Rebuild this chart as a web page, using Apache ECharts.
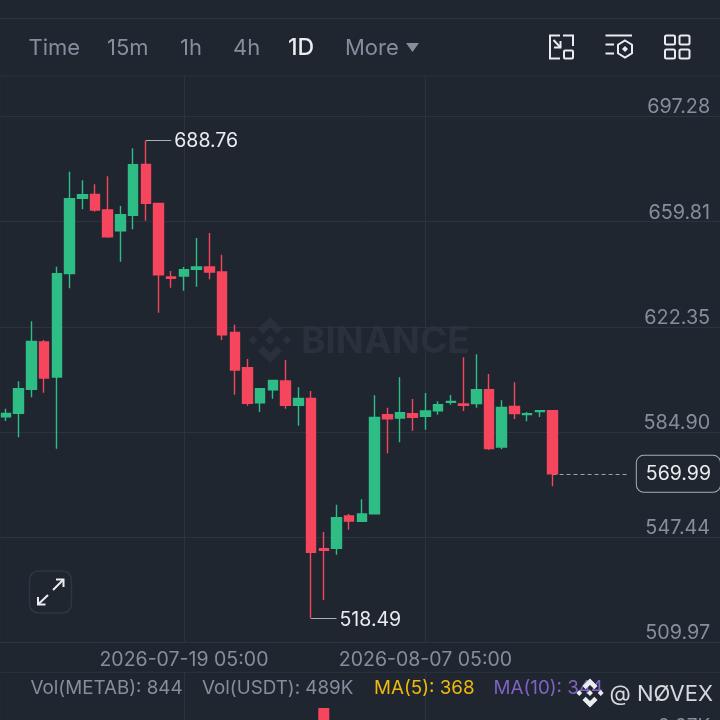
<!DOCTYPE html>
<html>
<head>
<meta charset="utf-8">
<style>html,body{margin:0;padding:0;background:#1f2630;overflow:hidden}#c{width:720px;height:720px}</style>
<script src="https://cdn.jsdelivr.net/npm/echarts@6/dist/echarts.min.js"></script>
</head>
<body>
<div id="c"></div>
<script>
const days = [
'2026-07-05 05:00','2026-07-06 05:00','2026-07-07 05:00','2026-07-08 05:00','2026-07-09 05:00','2026-07-10 05:00',
'2026-07-11 05:00','2026-07-12 05:00','2026-07-13 05:00','2026-07-14 05:00','2026-07-15 05:00','2026-07-16 05:00',
'2026-07-17 05:00','2026-07-18 05:00','2026-07-19 05:00','2026-07-20 05:00','2026-07-21 05:00','2026-07-22 05:00',
'2026-07-23 05:00','2026-07-24 05:00','2026-07-25 05:00','2026-07-26 05:00','2026-07-27 05:00','2026-07-28 05:00',
'2026-07-29 05:00','2026-07-30 05:00','2026-07-31 05:00','2026-08-01 05:00','2026-08-02 05:00','2026-08-03 05:00',
'2026-08-04 05:00','2026-08-05 05:00','2026-08-06 05:00','2026-08-07 05:00','2026-08-08 05:00','2026-08-09 05:00',
'2026-08-10 05:00','2026-08-11 05:00','2026-08-12 05:00','2026-08-13 05:00','2026-08-14 05:00','2026-08-15 05:00',
'2026-08-16 05:00','2026-08-17 05:00','2026-08-18 05:00','2026-08-19 05:00','2026-08-20 05:00','2026-08-21 05:00',
'2026-08-22 05:00','2026-08-23 05:00','2026-08-24 05:00','2026-08-25 05:00','2026-08-26 05:00','2026-08-27 05:00',
'2026-08-28 05:00','2026-08-29 05:00','2026-08-30 05:00'];
const shownDays = ['2026-07-19 05:00','2026-08-07 05:00'];
// [open, close, low, high]
const candles = [
[590.34,591.53,588.80,593.19],[591.53,600.32,582.98,602.93],[600.08,617.18,597.23,624.30],[616.94,604.12,598.89,617.65],
[604.47,641.29,578.94,643.78],[641.29,668.00,636.06,677.62],[668.12,669.43,664.20,674.54],[669.55,663.97,663.37,673.11],
[663.97,654.47,654.11,675.96],[656.60,662.30,645.56,665.39],[662.07,680.12,657.08,685.94],[680.24,666.34,660.17,688.76],
[666.34,640.93,627.39,666.34],[640.10,639.62,636.30,642.24],[640.45,642.71,635.23,643.66],[642.83,643.66,636.65,653.99],
[643.66,641.88,639.27,655.77],[641.88,619.55,617.65,648.05],[620.39,606.97,598.18,623.12],[607.80,595.09,594.26,610.89],
[595.33,600.32,592.00,600.32],[599.96,603.29,596.75,603.29],[603.05,594.38,593.19,610.53],[594.38,596.87,587.14,600.79],
[596.88,542.02,518.49,599.49],[543.32,542.73,525.03,549.26],[543.44,554.37,541.18,559.00],[554.96,553.18,550.09,555.67],
[553.06,555.67,553.06,560.90],[555.79,590.11,555.79,597.95],[591.06,589.63,577.28,593.55],[589.87,591.77,581.20,604.36],
[591.42,590.11,585.36,596.64],[590.47,592.37,585.72,598.78],[592.48,594.62,591.06,595.81],[595.45,595.81,594.62,598.07],
[594.86,594.38,592.37,611.48],[594.98,599.97,593.55,612.55],[599.97,578.95,578.47,605.55],[579.54,593.67,578.71,596.17],
[594.03,591.42,589.52,602.58],[591.06,591.42,588.68,592.01],[592.13,592.48,590.23,592.72],[592.48,569.99,565.53,592.60]];
const volumes = [null,null,null,null,null,null,null,null,null,null,null,null,null,null,null,null,null,null,null,null,null,null,null,null,null,2500];
const priceTicks = [509.97,547.44,584.90,622.35,659.81,697.28];
const volumeTicks = [2270];
const highPoint = {from:11,to:13,value:688.76};
const lowPoint = {from:24,to:26,value:518.49};
const lastPoint = {from:43,to:49,value:569.99};
const tabs = [['Time',28.5],['15m',107],['1h',180],['4h',233],['More',345]];
const activeTab = ['1D',288];
const legendItems = [['Vol(METAB): 844',30.5,'#848e9c'],['Vol(USDT): 489K',202,'#848e9c'],['MA(5): 368',374,'#f0b90b'],['MA(10): 344',493.5,'#7f63c4']];

const BG='#1f2630', LINE='#2c333e', GREY='#848e9c', FONT='Inter', WHITE='#eaecef';
const up='#2ebd85', down='#f6465d';

function txt(text,x,y,size,fill,extra){return Object.assign({type:'text',x:x,y:y,z:50,silent:true,style:{text:text,fontSize:size,fontFamily:FONT,fill:fill,verticalAlign:'middle',align:'left'}},extra||{});}
function poly(pts,fill,z){return {type:'polygon',z:z,silent:true,shape:{points:pts},style:{fill:fill}};}
function logo(cx,cy,r,fill,z){
  const P=a=>a.map(p=>[cx+p[0]*r,cy+p[1]*r]);
  return [
    poly(P([[0,-.2],[.2,0],[0,.2],[-.2,0]]),fill,z),
    poly(P([[-.74,-.2],[-.54,0],[-.74,.2],[-.94,0]]),fill,z),
    poly(P([[.74,-.2],[.94,0],[.74,.2],[.54,0]]),fill,z),
    poly(P([[0,-1],[.52,-.48],[.3,-.26],[0,-.56],[-.3,-.26],[-.52,-.48]]),fill,z),
    poly(P([[0,1],[.52,.48],[.3,.26],[0,.56],[-.3,.26],[-.52,.48]]),fill,z)
  ];
}
function pl(points,color,w){return {type:'polyline',z:50,silent:true,shape:{points:points},style:{stroke:color,lineWidth:w,fill:null}};}
function rc(x,y,w,h,r,color,lw){return {type:'rect',z:50,silent:true,shape:{x:x,y:y,width:w,height:h,r:r},style:{stroke:color,lineWidth:lw,fill:null}};}

const graphics = [
  {type:'line',z:1,silent:true,shape:{x1:0,y1:18.5,x2:720,y2:18.5},style:{stroke:LINE,lineWidth:1}},
  ...logo(270,340,23,'#2a313c',0),
  txt('BINANCE',301,341.5,37,'#2a313c',{z:0,style:{text:'BINANCE',fontSize:37,fontWeight:700,fontFamily:FONT,fill:'#2a313c',verticalAlign:'middle',align:'left'}}),
  ...tabs.map(t=>txt(t[0],t[1],48.5,22,GREY)),
  txt(activeTab[0],activeTab[1],48.5,23,WHITE,{style:{text:activeTab[0],fontSize:23,fontWeight:500,fontFamily:FONT,fill:WHITE,verticalAlign:'middle',align:'left'}}),
  poly([[406,43],[419,43],[412.5,52]],GREY,50),
  // screen icon
  pl([[560,35.5],[550,35.5],[550,58.5],[560,58.5]],WHITE,2),
  pl([[563,35.5],[573,35.5],[573,46]],WHITE,2),
  rc(564,50.5,9,8,1,WHITE,2),
  pl([[553.5,40],[560.5,47.5]],WHITE,2),
  pl([[554,47.5],[560.5,47.5],[560.5,41]],WHITE,2),
  // settings icon
  pl([[605.5,35.5],[632,35.5]],WHITE,2),
  pl([[605.5,44.5],[614,44.5]],WHITE,2),
  pl([[605.5,53.5],[614,53.5]],WHITE,2),
  {type:'polygon',z:50,silent:true,shape:{points:[[625,40.5],[632,44.7],[632,53.3],[625,57.5],[618,53.3],[618,44.7]]},style:{stroke:WHITE,lineWidth:2,fill:null}},
  poly([[625,46],[628,49],[625,52],[622,49]],WHITE,50),
  // grid icon
  rc(665,35.5,10,9,1.5,WHITE,2),rc(679.5,35.5,10,9,1.5,WHITE,2),rc(665,49.5,10,9,1.5,WHITE,2),rc(679.5,49.5,10,9,1.5,WHITE,2),
  // expand button
  rc(29.5,571,42,42,9,'#2f3641',1.5),
  pl([[53,590],[63,580]],WHITE,2),pl([[56,579.5],[63.5,579.5],[63.5,587]],WHITE,2),
  pl([[48,595],[38.5,604]],WHITE,2),pl([[38,597],[38,604.5],[45.5,604.5]],WHITE,2),
  // legend
  ...legendItems.map(l=>txt(l[0],l[1],688,18.8,l[2])),
  // footer mark
  ...logo(590,693,14.5,WHITE,60),
  txt('@ NØVEX',609.5,694,22,'#d5d8dc',{z:60,style:{text:'@ NØVEX',fontSize:22,fontFamily:FONT,fill:'#d5d8dc',verticalAlign:'middle',align:'left'}})
];

const wantedLabels = (i)=>shownDays.indexOf(days[i])>=0;
const vSplit = {show:true,interval:(i)=>wantedLabels(i),alignWithLabel:true,lineStyle:{color:LINE,width:1}};
const segment = (p,line,label)=>[
  {xAxis:days[p.from],yAxis:p.value,lineStyle:line,label:label},
  {xAxis:days[p.to],yAxis:p.value,lineStyle:line,label:label}
];
const pointLabel = (p,lh)=>({show:true,position:'end',distance:3,verticalAlign:'top',lineHeight:lh,formatter:()=>p.value.toFixed(2),color:WHITE,fontSize:19.5,fontFamily:FONT});
const solid = {type:'solid',color:'#aab0b8',width:1};

const option = {
  animation:false,
  backgroundColor:BG,
  graphic:graphics,
  tooltip:{show:false},
  grid:[
    {left:-0.35,width:724.5,top:76,height:566.3,outerBoundsMode:'none',show:true,borderColor:LINE,borderWidth:1,backgroundColor:'transparent'},
    {left:-0.35,width:724.5,top:672.3,height:127.7,outerBoundsMode:'none',show:true,borderColor:LINE,borderWidth:1,backgroundColor:'transparent'}
  ],
  xAxis:[
    {type:'category',gridIndex:0,data:days,axisLine:{show:false},axisTick:{show:false},splitLine:vSplit,
     axisLabel:{show:true,interval:(i)=>wantedLabels(i),margin:8,color:GREY,fontSize:19.5,fontFamily:FONT}},
    {type:'category',gridIndex:1,data:days,axisLine:{show:false},axisTick:{show:false},axisLabel:{show:false},splitLine:vSplit}
  ],
  yAxis:[
    {type:'value',gridIndex:0,position:'right',min:509.97,max:711.71,scale:true,axisLine:{show:false},
     axisTick:{show:false,customValues:priceTicks},
     splitLine:{show:true,lineStyle:{color:LINE,width:1}},
     axisLabel:{inside:true,margin:14,customValues:priceTicks,verticalAlign:'bottom',lineHeight:18,color:GREY,fontSize:19.8,fontFamily:FONT,
       formatter:(v)=>v.toFixed(2)}},
    {type:'value',gridIndex:1,position:'right',min:0,max:3472,axisLine:{show:false},
     axisTick:{show:false,customValues:volumeTicks},splitLine:{show:false},
     axisLabel:{inside:true,margin:14,customValues:volumeTicks,verticalAlign:'top',color:GREY,fontSize:19,fontFamily:FONT,
       formatter:(v)=>(v/1000).toFixed(2)+'K'}}
  ],
  series:[
    {type:'candlestick',xAxisIndex:0,yAxisIndex:0,data:candles,barWidth:10,z:2,
     itemStyle:{color:up,color0:down,borderColor:up,borderColor0:down,borderWidth:1.4},
     markLine:{silent:true,z:1,symbol:['none','none'],animation:false,
       data:[
         segment(highPoint,solid,pointLabel(highPoint,2)),
         segment(lowPoint,solid,pointLabel(lowPoint,3)),
         segment(lastPoint,{type:[4,3],color:'#9aa1ab',width:1},{
           show:true,position:'end',distance:8,formatter:()=>lastPoint.value.toFixed(2),
           color:WHITE,fontSize:19.5,fontFamily:FONT,backgroundColor:BG,borderColor:'#a7adb5',borderWidth:1,borderRadius:7,
           padding:[8,9,8,9],align:'left',verticalAlign:'middle'})
       ]}},
    {type:'bar',xAxisIndex:1,yAxisIndex:1,data:volumes,barWidth:11,itemStyle:{color:down},z:2}
  ]
};
const chart = echarts.init(document.getElementById('c'),null,{width:720,height:720,renderer:'canvas'});
chart.setOption(option);
</script>
</body>
</html>
